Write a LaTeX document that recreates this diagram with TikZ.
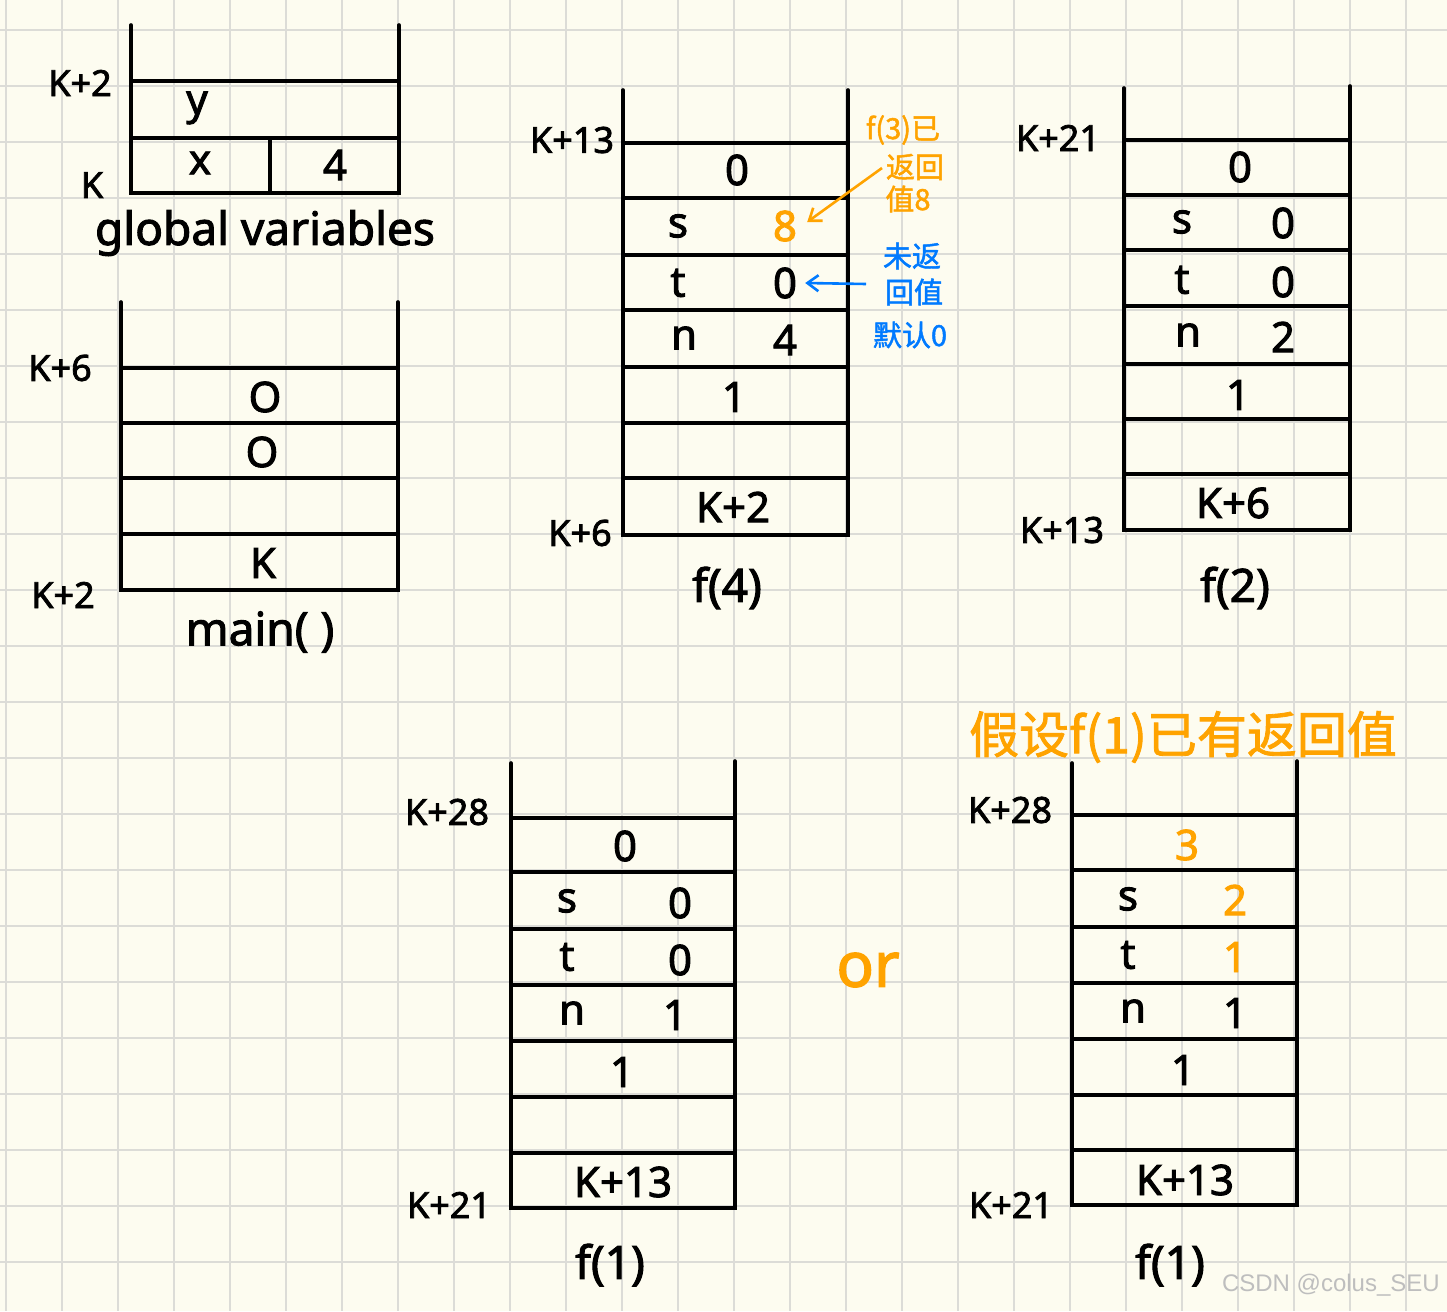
\documentclass[tikz,border=0pt]{standalone}
\usepackage{fontspec}
\setmainfont{Noto Sans}[FakeBold=2.2]
\newfontfamily\cjk{Noto Sans CJK SC}[FakeBold=1.6]
\newfontfamily\wmfont{Liberation Sans}
\usetikzlibrary{arrows.meta}
\definecolor{bgc}{RGB}{253,252,240}
\definecolor{gridc}{RGB}{220,220,215}
\definecolor{orng}{RGB}{255,163,0}
\definecolor{blu}{RGB}{0,122,255}
\definecolor{wm}{RGB}{190,190,190}
\tikzset{
  stk/.style={line width=3.6pt, line cap=round, line join=miter},
  lab/.style={font=\fontsize{36}{40}\selectfont, inner sep=0pt},
  cell/.style={font=\fontsize{42}{44}\selectfont, inner sep=0pt},
  ttl/.style={font=\fontsize{46}{48}\selectfont, inner sep=0pt},
  ann/.style={font=\fontsize{29}{30}\selectfont\cjk, inner sep=0pt},
  bigann/.style={font=\fontsize{50}{52}\selectfont\cjk, inner sep=0pt, text=orng},
  arr/.style={line width=2.6pt, -{Straight Barb[length=11pt,width=16pt]}},
}
\begin{document}
\begin{tikzpicture}[x=1pt,y=-1pt]
\useasboundingbox (0,0) rectangle (1447,1311);
\fill[bgc] (0,0) rectangle (1447,1311);
\foreach \gx in {6,62,...,1447} \draw[gridc, line width=1.5pt] (\gx,0) -- (\gx,1311);
\foreach \gy in {30,86,...,1311} \draw[gridc, line width=1.5pt] (0,\gy) -- (1447,\gy);

% ---------- global variables ----------
\draw[stk] (131,25) -- (131,193) -- (399,193) -- (399,25);
\draw[stk] (131,81) -- (399,81);
\draw[stk] (131,138) -- (399,138);
\draw[stk] (270,138) -- (270,193);
\node[lab] (gK2) at (80,83) {K+2};
\node[lab] (gK) at (92,185) {K};
\node[cell] (gy) at (197,108) {y};
\node[cell] (gx) at (200,163) {x};
\node[cell] (g4) at (335,165) {4};
\node[ttl] (gt) at (265,233) {global variables};

% ---------- main() ----------
\draw[stk] (121,302) -- (121,590) -- (398,590) -- (398,302);
\foreach \yy in {368,423,478,534} \draw[stk] (121,\yy) -- (398,\yy);
\node[lab] (mK6) at (60,368) {K+6};
\node[lab] (mK2) at (63,595) {K+2};
\node[cell] (m0a) at (265,397) {O};
\node[cell] (m0b) at (262,452) {O};
\node[cell] (mK) at (263,563) {K};
\node[ttl] (mt) at (260,632) {main( )};

% ---------- f(4) ----------
\draw[stk] (623,90) -- (623,535) -- (848,535) -- (848,90);
\foreach \yy in {143,198,255,310,367,423,478} \draw[stk] (623,\yy) -- (848,\yy);
\node[lab] (aK13) at (572,140) {K+13};
\node[lab] (aK6) at (580,533) {K+6};
\node[cell] (a0) at (737,170) {0};
\node[cell] (as) at (678,226) {s};
\node[cell, text=orng] (as8) at (785,226) {8};
\node[cell] (at) at (678,283) {t};
\node[cell] (at0) at (785,283) {0};
\node[cell] (an) at (684,338) {n};
\node[cell] (an4) at (785,340) {4};
\node[cell] (a1) at (734,397) {1};
\node[cell] (aK2) at (733,507) {K+2};
\node[ttl] (at4) at (727,588) {f(4)};
\node[ann, text=orng] (o1) at (903,130) {f(3)已};
\node[ann, text=orng] (o2) at (915,167) {返回};
\node[ann, text=orng] (o3) at (908,199) {值8};
\node[ann, text=blu] (b1) at (912,256) {未返};
\node[ann, text=blu] (b2) at (914,292) {回值};
\node[ann, text=blu] (b3) at (910,335) {默认0};
\coordinate (oa) at (882,168);
\coordinate (ba) at (866,284);
\draw[arr, orng] (oa) -- ([shift={(10,-4)}]as8.east);
\draw[arr, blu] (ba) -- ([xshift=8pt]at0.east);

% ---------- f(2) ----------
\draw[stk] (1124,88) -- (1124,530) -- (1350,530) -- (1350,86);
\foreach \yy in {140,195,250,306,364,419,474} \draw[stk] (1124,\yy) -- (1350,\yy);
\node[lab] (bK21) at (1058,138) {K+21};
\node[lab] (bK13) at (1062,530) {K+13};
\node[cell] (c0) at (1240,167) {0};
\node[cell] (cs) at (1182,222) {s};
\node[cell] (cs0) at (1283,223) {0};
\node[cell] (ct) at (1182,280) {t};
\node[cell] (ct0) at (1283,282) {0};
\node[cell] (cn) at (1188,335) {n};
\node[cell] (cn2) at (1283,337) {2};
\node[cell] (c1) at (1238,395) {1};
\node[cell] (cK6) at (1233,503) {K+6};
\node[ttl] (ct2) at (1235,588) {f(2)};

% ---------- f(1) left ----------
\draw[stk] (511,763) -- (511,1208) -- (735,1208) -- (735,761);
\foreach \yy in {818,872,929,985,1041,1097,1153} \draw[stk] (511,\yy) -- (735,\yy);
\node[lab] (dK28) at (447,812) {K+28};
\node[lab] (dK21) at (449,1205) {K+21};
\node[cell] (d0) at (625,846) {0};
\node[cell] (ds) at (567,901) {s};
\node[cell] (ds0) at (680,903) {0};
\node[cell] (dt) at (567,957) {t};
\node[cell] (dt0) at (680,960) {0};
\node[cell] (dn) at (572,1013) {n};
\node[cell] (dn1) at (675,1015) {1};
\node[cell] (d1) at (622,1072) {1};
\node[cell] (dK13) at (623,1182) {K+13};
\node[ttl] (dt1) at (610,1265) {f(1)};

\node[font=\fontsize{62}{64}\selectfont, text=orng, inner sep=0pt] (or) at (868,970) {or};

% ---------- f(1) right ----------
\node[bigann] (hyp) at (1183,737) {假设f(1)已有返回值};
\draw[stk] (1072,763) -- (1072,1205) -- (1297,1205) -- (1297,761);
\foreach \yy in {815,870,927,983,1039,1095,1150} \draw[stk] (1072,\yy) -- (1297,\yy);
\node[lab] (eK28) at (1010,810) {K+28};
\node[lab] (eK21) at (1011,1205) {K+21};
\node[cell, text=orng] (e3) at (1187,845) {3};
\node[cell] (es) at (1128,899) {s};
\node[cell, text=orng] (es2) at (1235,900) {2};
\node[cell] (et) at (1128,955) {t};
\node[cell, text=orng] (et1) at (1235,957) {1};
\node[cell] (en) at (1133,1011) {n};
\node[cell] (en1) at (1235,1013) {1};
\node[cell] (e1) at (1183,1070) {1};
\node[cell] (eK13) at (1185,1180) {K+13};
\node[ttl] (et1t) at (1170,1265) {f(1)};

\node[font=\fontsize{24}{26}\selectfont\wmfont, text=wm, inner sep=0pt, anchor=east] (wmk) at (1440,1285) {CSDN @colus\_SEU};
\end{tikzpicture}
\end{document}
